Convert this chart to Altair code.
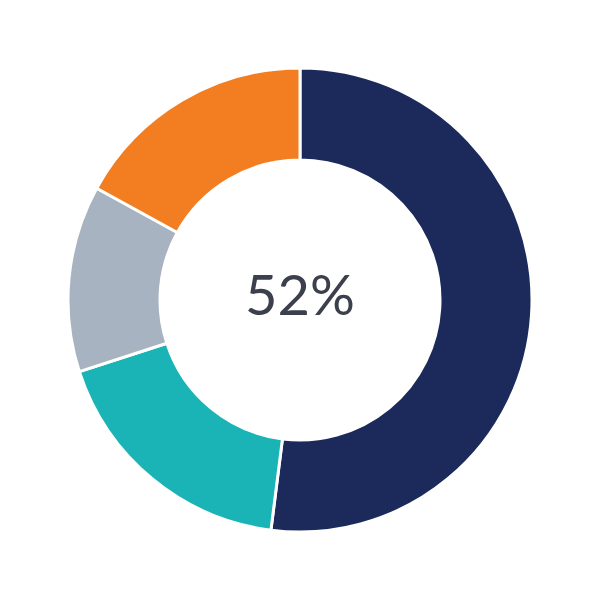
import altair as alt
import pandas as pd

categories = ["A", "B", "C", "D"]
values = [52, 18, 13, 17]
colors = ["#1b2a5a", "#1ab4b6", "#a8b3c1", "#f37e21"]
center_label = "52%"

df = pd.DataFrame({"cat": categories, "value": values, "order": list(range(len(values)))})

arc = alt.Chart(df).mark_arc(
    innerRadius=140, outerRadius=232, stroke="white", strokeWidth=3
).encode(
    theta=alt.Theta("value:Q", stack=True),
    color=alt.Color("cat:N", scale=alt.Scale(domain=categories, range=colors), legend=None),
    order=alt.Order("order:Q"),
)

text = alt.Chart(pd.DataFrame({"t": [center_label]})).mark_text(
    fontSize=56, font="Lato", fontWeight=400, color="#3b404c", baseline="middle", align="center"
).encode(
    text="t:N", x=alt.value(292), y=alt.value(290)
)

chart = alt.layer(arc, text).properties(
    width=584, height=584, padding=0
).configure_view(stroke=None)

chart.save("out.html", embed_options={"renderer": "svg", "actions": False})
